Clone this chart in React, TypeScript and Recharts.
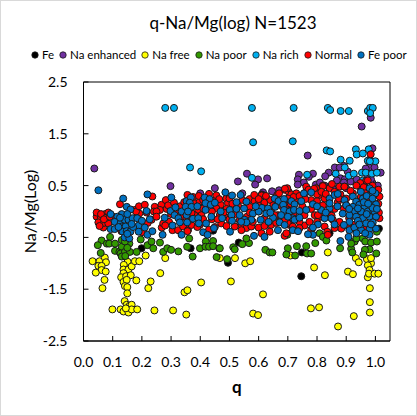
import { ScatterChart, Scatter, XAxis, YAxis, ReferenceArea } from "recharts";

const xTicks = [0, 0.1, 0.2, 0.3, 0.4, 0.5, 0.6, 0.7, 0.8, 0.9, 1.0];
const yTicks = [-2.5, -1.5, -0.5, 0.5, 1.5, 2.5];

const fe = [[0.199,-0.71],[0.367,-0.71],[0.444,-0.37],[0.495,-0.99],[0.532,-0.6],[0.746,-1.25],[0.748,-0.79],[1.012,-0.33],[0.843,-0.42]];

const naEnhanced = [[0.037,0.83],[0.298,0.49],[0.4,0.35],[0.45,0.45],[0.953,1.64],[0.984,1.81],[0.768,1.08],[0.56,0.73],[0.529,0.58],[0.598,0.62],[0.588,0.52],[0.629,0.64],[0.738,0.71],[0.734,0.62],[0.786,0.73],[0.772,0.67],[0.755,0.56],[0.734,0.52],[0.796,0.52],[0.81,0.56],[0.84,0.75],[0.861,0.85],[0.892,0.88],[0.878,0.85],[0.881,0.64],[0.895,0.62],[0.915,0.58],[0.892,0.56],[0.868,0.6],[0.99,1.22],[0.977,0.85],[0.967,0.83],[0.997,0.85],[1.018,0.75],[0.936,0.62],[0.615,0.37],[0.611,0.33],[0.646,0.39],[0.67,0.41],[0.544,0.35],[0.826,0.5],[0.853,0.46],[0.761,0.37],[0.974,0.68],[0.99,0.55],[1.0,0.37],[0.828,0.68],[0.905,0.77],[0.98,1.0],[0.985,0.62],[1.008,0.5],[0.9,0.45]];

const naFree = [[0.031,-0.96],[0.055,-0.96],[0.073,-0.89],[0.077,-0.98],[0.051,-1.05],[0.062,-1.05],[0.062,-1.13],[0.042,-1.18],[0.076,-1.16],[0.072,-1.32],[0.065,-1.48],[0.151,-0.97],[0.138,-1.03],[0.137,-1.12],[0.154,-1.12],[0.165,-1.06],[0.137,-1.19],[0.129,-1.27],[0.146,-1.25],[0.162,-1.23],[0.137,-1.36],[0.148,-1.32],[0.142,-1.44],[0.15,-1.46],[0.15,-1.58],[0.141,-1.73],[0.148,-1.8],[0.158,-1.82],[0.165,-1.8],[0.099,-1.89],[0.127,-1.89],[0.137,-1.93],[0.154,-1.95],[0.165,-1.89],[0.184,-1.89],[0.145,-1.87],[0.243,-1.91],[0.307,-1.91],[0.352,-1.99],[0.181,-1.33],[0.23,-1.35],[0.222,-1.48],[0.263,-1.19],[0.346,-1.56],[0.356,-1.52],[0.403,-1.37],[0.505,-1.35],[0.28,-0.9],[0.213,-0.85],[0.176,-0.96],[0.191,-0.96],[0.467,-0.9],[0.519,-0.9],[0.554,-1.0],[0.571,-0.96],[0.615,-1.6],[0.581,-1.97],[0.598,-2.0],[0.779,-1.87],[0.807,-1.85],[0.872,-2.22],[0.926,-2.02],[0.981,-1.95],[0.981,-1.75],[0.981,-1.48],[0.974,-1.27],[0.827,-1.23],[0.79,-1.08],[0.906,-1.16],[0.923,-1.21],[0.837,-0.79],[0.709,-0.85],[0.933,-0.9],[0.943,-0.98],[0.971,-0.92],[0.985,-1.0],[0.974,-1.04],[0.98,-1.13],[0.978,-1.2],[0.997,-1.2],[1.01,-1.2],[0.985,-0.9]];

const naPoor = [[0.091,-0.49],[0.062,-0.56],[0.049,-0.65],[0.08,-0.62],[0.088,-0.62],[0.059,-0.8],[0.108,-0.62],[0.108,-0.76],[0.123,-0.78],[0.131,-0.55],[0.131,-0.68],[0.127,-0.81],[0.142,-0.78],[0.159,-0.78],[0.157,-0.62],[0.142,-0.58],[0.131,-0.87],[0.143,-0.86],[0.15,-0.7],[0.196,-0.54],[0.219,-0.65],[0.233,-0.58],[0.239,-0.71],[0.262,-0.6],[0.273,-0.78],[0.287,-0.71],[0.3,-0.74],[0.325,-0.77],[0.182,-0.78],[0.362,-0.52],[0.355,-0.68],[0.374,-0.87],[0.399,-0.71],[0.419,-0.58],[0.444,-0.57],[0.418,-0.68],[0.43,-0.68],[0.444,-0.67],[0.465,-0.71],[0.456,-0.88],[0.467,-0.71],[0.513,-0.69],[0.518,-0.73],[0.492,-0.92],[0.544,-0.63],[0.567,-0.61],[0.558,-0.52],[0.623,-0.74],[0.638,-0.79],[0.647,-0.79],[0.7,-0.71],[0.695,-0.83],[0.725,-0.85],[0.731,-0.67],[0.763,-0.67],[0.766,-0.81],[0.78,-0.81],[0.794,-0.61],[0.809,-0.42],[0.82,-0.49],[0.832,-0.56],[0.879,-0.71],[0.917,-0.72],[0.921,-0.79],[0.929,-0.58],[0.935,-0.52],[0.957,-0.52],[0.965,-0.58],[0.985,-0.6],[1.005,-0.58],[0.98,-0.73],[0.964,-0.74],[0.959,-0.83],[1.003,-0.81],[1.005,-0.39],[0.698,-0.45],[0.917,-0.62]];

const naRich = [[0.28,2.0],[0.31,2.0],[0.365,0.85],[0.403,0.775],[0.577,2.0],[0.72,2.0],[0.837,2.0],[0.845,1.96],[0.881,1.94],[0.909,1.94],[0.974,1.94],[0.982,2.0],[0.991,2.0],[0.982,1.9],[0.581,1.336],[0.717,1.355],[0.833,1.18],[0.845,1.16],[0.933,1.2],[0.936,1.1],[0.957,1.12],[0.977,1.2],[0.881,1.0],[0.912,0.98],[0.895,0.85],[0.864,0.73],[0.909,0.69],[0.926,0.73],[0.954,0.75],[0.967,0.75],[0.988,0.73],[1.005,0.75],[0.974,0.98],[1.0,0.97],[0.981,0.97],[0.766,0.71],[0.577,0.65],[0.957,0.6]];

const normal = [[0.045,-0.1],[0.059,-0.13],[0.074,-0.05],[0.085,-0.02],[0.051,-0.21],[0.068,-0.31],[0.07,-0.22],[0.085,-0.23],[0.102,-0.1],[0.125,0.14],[0.176,0.03],[0.191,-0.04],[0.236,0.29],[0.216,-0.02],[0.244,0.09],[0.267,0.13],[0.282,0.22],[0.241,0.0],[0.262,0.03],[0.285,0.05],[0.233,-0.16],[0.268,-0.31],[0.273,-0.23],[0.293,-0.2],[0.305,-0.36],[0.324,-0.36],[0.341,-0.29],[0.358,-0.36],[0.336,-0.1],[0.364,-0.26],[0.28,-0.27],[0.045,-0.02],[0.06,-0.05],[0.055,-0.28],[0.078,-0.12],[0.356,0.32],[0.381,0.16],[0.398,0.19],[0.393,0.03],[0.404,-0.07],[0.353,-0.13],[0.37,-0.26],[0.356,-0.38],[0.398,-0.26],[0.455,0.31],[0.489,0.25],[0.47,0.13],[0.455,0.06],[0.467,-0.07],[0.484,-0.1],[0.472,-0.23],[0.495,0.16],[0.569,0.24],[0.586,0.2],[0.611,0.32],[0.598,0.13],[0.569,0.09],[0.541,-0.26],[0.558,-0.32],[0.575,-0.29],[0.6,-0.31],[0.518,-0.29],[0.541,-0.36],[0.638,-0.39],[0.689,-0.47],[0.695,-0.42],[0.664,0.32],[0.689,0.42],[0.703,0.38],[0.643,0.0],[0.643,-0.26],[0.666,-0.07],[0.706,-0.26],[0.62,-0.13],[0.655,-0.07],[0.698,0.45],[0.712,0.33],[0.729,0.35],[0.7,0.25],[0.7,0.12],[0.763,0.48],[0.771,0.42],[0.797,0.45],[0.82,0.5],[0.843,0.45],[0.877,0.48],[0.894,0.48],[0.871,0.18],[0.809,0.32],[0.826,0.25],[0.892,0.06],[0.923,0.35],[0.951,0.42],[0.963,0.48],[0.976,0.38],[1.014,0.29],[1.014,-0.13],[0.968,0.59],[0.757,-0.07],[0.792,-0.07],[0.757,-0.27],[0.74,-0.2],[0.774,-0.2],[0.814,-0.1],[0.826,-0.29],[0.835,-0.39],[0.854,-0.16],[0.877,-0.2],[0.883,-0.33],[0.837,-0.45],[0.7,-0.23],[0.717,-0.29],[0.803,-0.07],[0.984,1.105],[0.69,0.44],[0.82,0.49],[0.851,0.53],[0.894,0.48],[0.948,0.55],[0.96,0.47],[0.974,0.6],[0.61,0.31],[0.79,0.44],[0.42,0.1],[0.44,0.0],[0.44,-0.15],[0.38,-0.07],[0.41,0.06],[0.5,-0.15],[0.52,-0.05],[0.49,0.05],[0.53,0.1],[0.56,-0.1],[0.58,-0.2],[0.6,0.0],[0.62,0.17],[0.64,0.22],[0.68,0.1],[0.71,0.15],[0.73,0.2],[0.75,0.1],[0.78,0.22],[0.8,0.2],[0.82,0.12],[0.84,-0.02],[0.86,0.05],[0.88,0.33],[0.9,0.12],[0.91,-0.13],[0.93,-0.25],[0.95,0.28],[0.97,-0.3],[0.99,-0.28],[1.0,0.05],[1.01,0.42],[0.99,0.5],[0.94,0.18],[0.86,-0.32],[0.78,-0.35],[0.72,-0.03],[0.66,-0.22],[0.45,-0.3],[0.43,-0.35],[0.39,-0.3],[0.35,0.05],[0.32,-0.05],[0.3,-0.05],[0.25,0.0],[0.22,-0.22],[0.2,-0.4],[0.12,-0.2],[0.13,-0.38],[0.18,0.0],[0.07,-0.15],[0.09,-0.1],[0.19,0.1],[0.21,0.13],[0.25,-0.1],[0.29,0.12],[0.31,0.17],[0.33,0.1],[0.345,0.18],[0.37,-0.03],[0.375,0.28],[0.395,0.3],[0.41,0.22],[0.43,0.34],[0.445,0.2],[0.465,0.24],[0.48,-0.02],[0.5,0.25],[0.51,0.15],[0.545,0.22],[0.57,-0.02],[0.585,0.32],[0.6,0.24],[0.625,0.3],[0.65,0.12],[0.67,0.35],[0.7,0.02],[0.72,0.28],[0.74,0.3],[0.76,0.24],[0.78,0.05],[0.8,0.33],[0.815,0.38],[0.83,0.34],[0.86,0.38],[0.875,0.25],[0.9,0.25],[0.915,0.4],[0.935,0.5],[0.95,0.1],[0.965,0.35],[0.98,0.2],[1.01,0.15],[1.012,-0.02],[0.905,-0.28],[0.85,-0.08],[0.8,-0.2],[0.74,-0.32],[0.69,-0.15],[0.62,-0.28],[0.61,-0.42],[0.535,-0.17],[0.49,-0.28],[0.46,-0.15],[0.41,-0.15],[0.37,-0.15]];

const fePoor = [[0.051,0.41],[0.136,0.25],[0.219,0.33],[0.301,0.27],[0.093,-0.05],[0.148,0.09],[0.161,0.04],[0.131,-0.05],[0.116,-0.1],[0.107,-0.2],[0.093,-0.34],[0.107,-0.34],[0.127,-0.23],[0.141,-0.16],[0.154,-0.16],[0.131,-0.29],[0.144,-0.29],[0.134,-0.39],[0.148,-0.38],[0.141,-0.5],[0.157,-0.52],[0.161,-0.39],[0.168,-0.13],[0.184,-0.13],[0.189,-0.27],[0.189,-0.39],[0.21,-0.31],[0.219,-0.45],[0.236,-0.38],[0.227,-0.15],[0.216,0.01],[0.271,-0.45],[0.298,0.01],[0.315,0.08],[0.336,0.0],[0.312,-0.07],[0.278,-0.12],[0.325,-0.13],[0.353,-0.07],[0.364,0.06],[0.353,0.2],[0.336,-0.45],[0.305,-0.27],[0.355,-0.21],[0.33,-0.21],[0.368,0.27],[0.364,0.17],[0.35,0.09],[0.37,0.09],[0.358,0.0],[0.375,-0.14],[0.393,-0.13],[0.395,-0.23],[0.42,-0.23],[0.415,0.27],[0.432,0.24],[0.418,0.16],[0.436,0.13],[0.418,0.03],[0.438,-0.1],[0.447,-0.32],[0.41,-0.4],[0.425,-0.45],[0.486,0.37],[0.509,0.31],[0.538,0.32],[0.524,0.18],[0.501,0.03],[0.524,0.05],[0.507,-0.07],[0.535,-0.07],[0.509,-0.18],[0.552,-0.16],[0.558,0.19],[0.55,0.06],[0.58,-0.04],[0.575,-0.16],[0.607,-0.16],[0.611,0.07],[0.632,0.06],[0.655,0.25],[0.668,0.2],[0.687,0.24],[0.684,0.13],[0.687,0.03],[0.657,0.09],[0.626,-0.04],[0.649,-0.12],[0.677,-0.07],[0.672,-0.21],[0.634,-0.2],[0.689,-0.26],[0.666,-0.36],[0.584,-0.47],[0.62,-0.49],[0.502,-0.39],[0.717,-0.36],[0.706,0.0],[0.717,-0.13],[0.712,0.2],[0.558,-0.21],[0.6,0.0],[0.755,0.35],[0.78,0.37],[0.746,0.2],[0.723,0.14],[0.721,0.03],[0.74,0.01],[0.763,0.03],[0.786,0.14],[0.814,0.03],[0.843,0.06],[0.843,0.25],[0.843,0.16],[0.86,0.32],[0.871,0.34],[0.894,0.22],[0.923,0.29],[0.934,0.19],[0.957,0.25],[0.98,0.45],[0.983,0.32],[1.0,0.35],[0.923,0.09],[0.945,0.13],[0.963,0.09],[0.985,0.14],[1.002,0.14],[0.928,0.0],[0.951,0.0],[0.974,0.0],[0.997,0.0],[0.911,-0.07],[0.934,-0.1],[0.957,-0.13],[0.98,-0.1],[1.002,-0.1],[0.911,-0.2],[0.94,-0.18],[0.968,-0.23],[0.991,-0.21],[0.888,-0.04],[0.849,-0.13],[0.826,-0.13],[0.803,-0.25],[0.786,-0.31],[0.723,-0.16],[0.735,-0.38],[0.786,-0.45],[0.769,-0.44],[0.86,-0.25],[0.892,-0.26],[0.911,-0.36],[0.951,-0.36],[0.98,-0.34],[1.002,-0.33],[0.928,-0.31],[0.98,-0.45],[0.908,-0.49],[0.88,-0.57],[0.47,0.0],[0.45,0.17],[0.475,-0.13],[0.39,0.1],[0.54,-0.2],[0.59,0.1],[0.64,-0.02],[0.7,-0.1],[0.74,-0.12],[0.8,0.1],[0.83,-0.02],[0.87,0.1],[0.9,0.12],[0.95,0.38],[0.97,0.3],[0.99,0.25],[0.97,-0.05],[0.945,-0.25],[0.99,0.07],[0.96,0.18],[0.94,0.06],[0.985,-0.25],[0.965,-0.42],[0.935,-0.42],[1.005,0.05],[0.91,0.05],[0.99,0.4],[0.975,0.15],[0.15,-0.05],[0.15,-0.43],[0.125,-0.12],[0.17,-0.3],[0.12,-0.3],[0.165,-0.24],[0.2,-0.18]];

const toPoints = (list: number[][]) => list.map(([q, v]) => ({ q, v }));

const seriesList = [
  { name: "Fe", color: "#000000", points: fe },
  { name: "Na enhanced", color: "#7030A0", points: naEnhanced },
  { name: "Na free", color: "#FFFF00", points: naFree },
  { name: "Na poor", color: "#339900", points: naPoor },
  { name: "Na rich", color: "#00B0F0", points: naRich },
  { name: "Normal", color: "#FF0000", points: normal },
  { name: "Fe poor", color: "#0070C0", points: fePoor },
];

const font = "Lato, 'Open Sans', sans-serif";

const dot = (color: string) => (props: any) => (
  <circle cx={props.cx} cy={props.cy} r={3.5} fill={color} stroke="#1a1a1a" strokeWidth={1} />
);

export default function App() {
  return (
    <div style={{ position: "absolute", left: 0, top: 0, width: 415, height: 414, background: "#fff", border: "1px solid #d9d9d9" }}>
      <div style={{ position: "absolute", left: 0, width: 464, top: 11, textAlign: "center", fontFamily: font, fontSize: 17, color: "#000" }}>
        q-Na/Mg(log) N=1523
      </div>
      <div style={{ position: "absolute", left: 30, top: 47, display: "flex", gap: 5, fontFamily: font, fontSize: 11.5, color: "#000", whiteSpace: "nowrap" }}>
        {seriesList.map((s) => (
          <span key={s.name} style={{ display: "flex", alignItems: "center", gap: 3 }}>
            <svg width={8} height={8}>
              <circle cx={4} cy={4} r={3.2} fill={s.color} stroke="#1a1a1a" strokeWidth={0.8} />
            </svg>
            {s.name}
          </span>
        ))}
      </div>
      <div style={{ position: "absolute", left: -1, top: -1 }}>
        <ScatterChart width={417} height={416} margin={{ top: 82, right: 27, bottom: 0, left: 0 }}>
          <XAxis
            type="number"
            dataKey="q"
            domain={[0, 1.05]}
            ticks={xTicks}
            tickFormatter={(t: number) => t.toFixed(1)}
            height={75}
            interval={0}
            tickSize={-5}
            tickMargin={21}
            tick={{ fill: "#000", fontSize: 14, fontFamily: font }}
            axisLine={{ stroke: "#000" }}
            tickLine={{ stroke: "#000" }}
            label={{ value: "q", position: "insideBottom", offset: 23, fill: "#000", fontSize: 17, fontWeight: 700, fontFamily: font }}
          />
          <YAxis
            type="number"
            dataKey="v"
            domain={[-2.5, 2.5]}
            ticks={yTicks}
            tickFormatter={(t: number) => t.toFixed(1)}
            width={83.5}
            interval={0}
            tickSize={-5}
            tickMargin={21}
            tick={{ fill: "#000", fontSize: 14, fontFamily: font }}
            axisLine={{ stroke: "#000" }}
            tickLine={{ stroke: "#000" }}
            label={{ value: "Na/Mg(Log)", angle: -90, position: "insideLeft", offset: 30, style: { textAnchor: "middle" }, fill: "#000", fontSize: 16, fontFamily: font }}
          />
          <ReferenceArea x1={0} x2={1.05} y1={-2.5} y2={2.5} fill="none" stroke="#000" ifOverflow="visible" />
          {seriesList.map((s) => (
            <Scatter key={s.name} name={s.name} data={toPoints(s.points)} fill={s.color} shape={dot(s.color)} isAnimationActive={false} />
          ))}
        </ScatterChart>
      </div>
    </div>
  );
}
